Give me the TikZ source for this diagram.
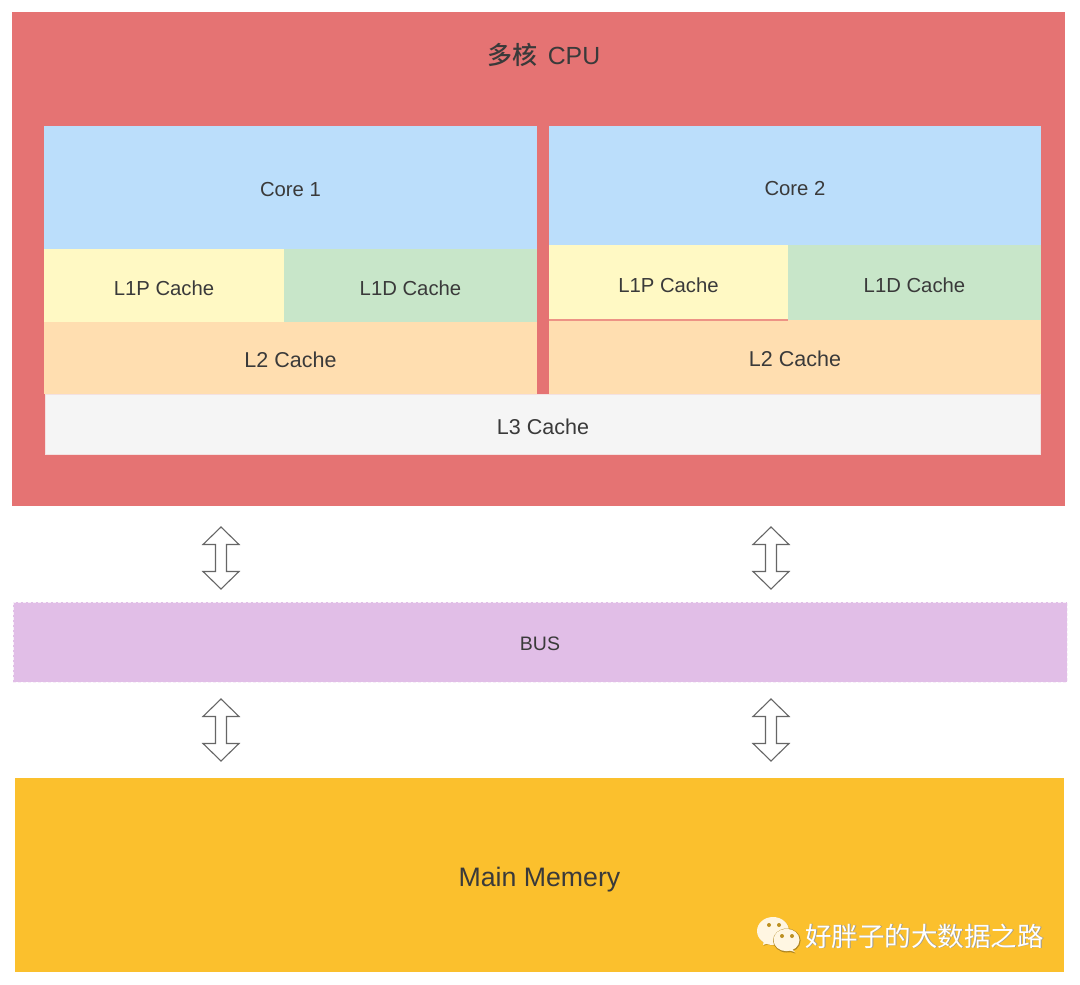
\documentclass[tikz,border=0pt]{standalone}
\usepackage{fontspec}
\usepackage{xcolor}
\setmainfont{Liberation Sans}
\newfontfamily\cjk{Noto Sans CJK SC}
\newfontfamily\cjktitle{Noto Sans CJK SC Medium}
\definecolor{cpured}{HTML}{E57373}
\definecolor{coreblue}{HTML}{BBDEFB}
\definecolor{pyellow}{HTML}{FFF9C4}
\definecolor{dgreen}{HTML}{C8E6C9}
\definecolor{ltorange}{HTML}{FFDEB0}
\definecolor{ltgrey}{HTML}{F5F5F5}
\definecolor{buspurple}{HTML}{E1BEE7}
\definecolor{memyellow}{HTML}{FBC02D}
\definecolor{inkgrey}{HTML}{3A3A3A}
\definecolor{bubble}{HTML}{FFF6E2}
\begin{document}
\begin{tikzpicture}[x=1pt,y=-1pt,
    box/.style={inner sep=0pt,outer sep=0pt,text=inkgrey,text height=19.5pt,text depth=0pt,font=\fontsize{20.3}{24}\selectfont},
    widebox/.style={box,font=\fontsize{21.5}{24}\selectfont},
    updown/.style={draw=black!60,fill=white,line width=1.1pt,line join=miter}]
    \useasboundingbox (0,0) rectangle (1080,985);
    \fill[white] (0,0) rectangle (1080,985);

    \node[box,fill=cpured,minimum width=1053pt,minimum height=494pt] (cpu) at (538.5,259) {};
    \node[text=inkgrey,inner sep=0pt] (title) at (544,55) {\cjktitle\fontsize{25}{30}\selectfont 多核\hspace{10pt}\normalfont\fontsize{24.8}{30}\selectfont CPU};

    \node[box,fill=coreblue,minimum width=493pt,minimum height=123pt,text height=18pt] (core1) at (290.5,187.5) {Core 1};
    \node[box,fill=pyellow,minimum width=240pt,minimum height=73pt] (l1p1) at (164,285.5) {L1P Cache};
    \node[box,fill=dgreen,minimum width=253pt,minimum height=73pt] (l1d1) at (410.5,285.5) {L1D Cache};
    \node[widebox,fill=ltorange,minimum width=493pt,minimum height=72pt] (l21) at (290.5,358) {L2 Cache};

    \node[box,fill=coreblue,minimum width=492pt,minimum height=119pt] (core2) at (795,185.5) {Core 2};
    \node[box,fill=pyellow,minimum width=239pt,minimum height=75pt] (l1p2) at (668.5,282.5) {L1P Cache};
    \node[box,fill=dgreen,minimum width=253pt,minimum height=75pt] (l1d2) at (914.5,282.5) {L1D Cache};
    \node[widebox,fill=ltorange,minimum width=492pt,minimum height=74pt] (l22) at (795,357) {L2 Cache};
    \draw[cpured!70!ltorange,line width=1.5pt] (l1p2.south west) -- (l1p2.south east);

    \node[widebox,fill=ltgrey,draw=ltgrey!85!cpured,line width=0.8pt,minimum width=995.2pt,minimum height=60.2pt] (l3) at (543,424.5) {L3 Cache};

    \node[box,fill=buspurple,minimum width=1054pt,minimum height=80pt,text height=17pt,
        font=\fontsize{19.5}{24}\selectfont] (bus) at (540,642) {BUS};
    \draw[buspurple!25,line width=1pt,dash pattern=on 3pt off 2pt] (bus.north west) rectangle (bus.south east);
    \node[box,fill=memyellow,minimum width=1049pt,minimum height=194pt,text height=23pt,
        font=\fontsize{26.7}{32}\selectfont] (mem) at (539.5,875) {Main Memery};

    \foreach \col in {221,771}
    \foreach \row in {527,699}
    \draw[updown] (\col,\row) -- ++(18,17.5) -- ++(-12.5,0) -- ++(0,27) -- ++(12.5,0) -- ++(-18,17.5)
        -- ++(-18,-17.5) -- ++(12.5,0) -- ++(0,-27) -- ++(-12.5,0) -- cycle;

    % wechat mark
    \fill[black!20!memyellow] (773.5,931.5) ellipse (16 and 14);
    \fill[black!20!memyellow] (764,940) -- (763.5,946) -- (772,943) -- cycle;
    \fill[bubble] (773,931) ellipse (16 and 14);
    \fill[bubble] (764,940) -- (763,945) -- (771,942) -- cycle;
    \fill[black!30!memyellow] (786.8,940.5) ellipse (13.8 and 12);
    \fill[black!30!memyellow] (790,948) -- (795.5,953.5) -- (783,950) -- cycle;
    \fill[bubble] (786.5,940) ellipse (13 and 11.2);
    \fill[bubble] (790,947) -- (795,952) -- (784,949) -- cycle;
    \foreach \eye in {(769,925),(779,925),(782,936),(792,936)}
        \fill[memyellow!75!black] \eye circle (2);
    \node[text=black!40,font=\cjk\fontsize{26.5}{32}\selectfont] (markshadow) at (925.3,936.8) {好胖子的大数据之路};
    \node[text=white,font=\cjk\fontsize{26.5}{32}\selectfont] (mark) at (924.5,936) {好胖子的大数据之路};
\end{tikzpicture}
\end{document}
